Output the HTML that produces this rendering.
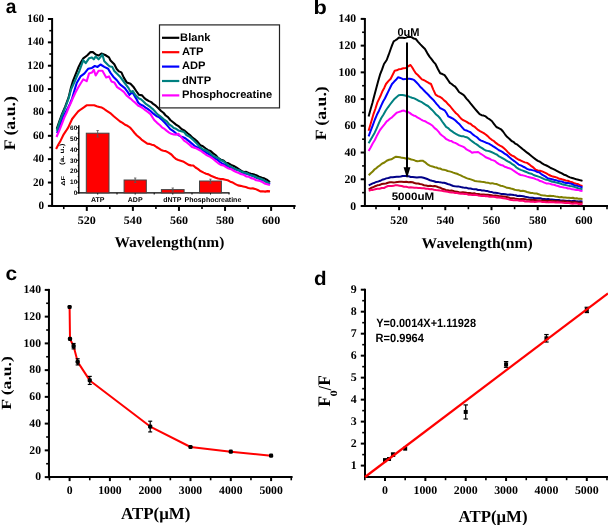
<!DOCTYPE html>
<html><head><meta charset="utf-8"><title>Figure</title>
<style>html,body{margin:0;padding:0;background:#fff;}svg{display:block;}</style>
</head><body>
<svg width="608" height="525" viewBox="0 0 608 525" text-rendering="geometricPrecision">
<rect width="608" height="525" fill="#fff"/>
<text transform="translate(5.78 13.35) scale(0.980 1)" font-family='"Liberation Sans", Arial, sans-serif' font-size="19.54" font-weight="bold" >a</text>
<line x1="52.1" y1="18" x2="52.1" y2="206.9" stroke="#000" stroke-width="2.0"/>
<line x1="47.9" y1="205.9" x2="52.1" y2="205.9" stroke="#000" stroke-width="2.0"/>
<line x1="47.9" y1="182.54" x2="52.1" y2="182.54" stroke="#000" stroke-width="2.0"/>
<line x1="47.9" y1="159.18" x2="52.1" y2="159.18" stroke="#000" stroke-width="2.0"/>
<line x1="47.9" y1="135.81" x2="52.1" y2="135.81" stroke="#000" stroke-width="2.0"/>
<line x1="47.9" y1="112.45" x2="52.1" y2="112.45" stroke="#000" stroke-width="2.0"/>
<line x1="47.9" y1="89.09" x2="52.1" y2="89.09" stroke="#000" stroke-width="2.0"/>
<line x1="47.9" y1="65.72" x2="52.1" y2="65.72" stroke="#000" stroke-width="2.0"/>
<line x1="47.9" y1="42.36" x2="52.1" y2="42.36" stroke="#000" stroke-width="2.0"/>
<line x1="47.9" y1="19" x2="52.1" y2="19" stroke="#000" stroke-width="2.0"/>
<line x1="49.3" y1="194.22" x2="52.1" y2="194.22" stroke="#000" stroke-width="1.6"/>
<line x1="49.3" y1="170.86" x2="52.1" y2="170.86" stroke="#000" stroke-width="1.6"/>
<line x1="49.3" y1="147.49" x2="52.1" y2="147.49" stroke="#000" stroke-width="1.6"/>
<line x1="49.3" y1="124.13" x2="52.1" y2="124.13" stroke="#000" stroke-width="1.6"/>
<line x1="49.3" y1="100.77" x2="52.1" y2="100.77" stroke="#000" stroke-width="1.6"/>
<line x1="49.3" y1="77.41" x2="52.1" y2="77.41" stroke="#000" stroke-width="1.6"/>
<line x1="49.3" y1="54.04" x2="52.1" y2="54.04" stroke="#000" stroke-width="1.6"/>
<line x1="49.3" y1="30.68" x2="52.1" y2="30.68" stroke="#000" stroke-width="1.6"/>
<text transform="translate(44.1 208.9) scale(0.98 1)" font-family='"Liberation Serif", "Times New Roman", serif' font-size="11.4" font-weight="bold" text-anchor="end" >0</text>
<text transform="translate(44.1 185.54) scale(0.98 1)" font-family='"Liberation Serif", "Times New Roman", serif' font-size="11.4" font-weight="bold" text-anchor="end" >20</text>
<text transform="translate(44.1 162.18) scale(0.98 1)" font-family='"Liberation Serif", "Times New Roman", serif' font-size="11.4" font-weight="bold" text-anchor="end" >40</text>
<text transform="translate(44.1 138.81) scale(0.98 1)" font-family='"Liberation Serif", "Times New Roman", serif' font-size="11.4" font-weight="bold" text-anchor="end" >60</text>
<text transform="translate(44.1 115.45) scale(0.98 1)" font-family='"Liberation Serif", "Times New Roman", serif' font-size="11.4" font-weight="bold" text-anchor="end" >80</text>
<text transform="translate(44.1 92.09) scale(0.98 1)" font-family='"Liberation Serif", "Times New Roman", serif' font-size="11.4" font-weight="bold" text-anchor="end" >100</text>
<text transform="translate(44.1 68.72) scale(0.98 1)" font-family='"Liberation Serif", "Times New Roman", serif' font-size="11.4" font-weight="bold" text-anchor="end" >120</text>
<text transform="translate(44.1 45.36) scale(0.98 1)" font-family='"Liberation Serif", "Times New Roman", serif' font-size="11.4" font-weight="bold" text-anchor="end" >140</text>
<text transform="translate(44.1 22) scale(0.98 1)" font-family='"Liberation Serif", "Times New Roman", serif' font-size="11.4" font-weight="bold" text-anchor="end" >160</text>
<line x1="51.1" y1="205.9" x2="295.6" y2="205.9" stroke="#000" stroke-width="2.0"/>
<line x1="86.8" y1="205.9" x2="86.8" y2="210.9" stroke="#000" stroke-width="2.0"/>
<line x1="132.88" y1="205.9" x2="132.88" y2="210.9" stroke="#000" stroke-width="2.0"/>
<line x1="178.96" y1="205.9" x2="178.96" y2="210.9" stroke="#000" stroke-width="2.0"/>
<line x1="225.04" y1="205.9" x2="225.04" y2="210.9" stroke="#000" stroke-width="2.0"/>
<line x1="271.12" y1="205.9" x2="271.12" y2="210.9" stroke="#000" stroke-width="2.0"/>
<line x1="63.76" y1="205.9" x2="63.76" y2="209.1" stroke="#000" stroke-width="1.6"/>
<line x1="109.84" y1="205.9" x2="109.84" y2="209.1" stroke="#000" stroke-width="1.6"/>
<line x1="155.92" y1="205.9" x2="155.92" y2="209.1" stroke="#000" stroke-width="1.6"/>
<line x1="202" y1="205.9" x2="202" y2="209.1" stroke="#000" stroke-width="1.6"/>
<line x1="248.08" y1="205.9" x2="248.08" y2="209.1" stroke="#000" stroke-width="1.6"/>
<line x1="294.16" y1="205.9" x2="294.16" y2="209.1" stroke="#000" stroke-width="1.6"/>
<text transform="translate(86.8 223.8) scale(1.06 1)" font-family='"Liberation Serif", "Times New Roman", serif' font-size="11.4" font-weight="bold" text-anchor="middle" >520</text>
<text transform="translate(132.88 223.8) scale(1.06 1)" font-family='"Liberation Serif", "Times New Roman", serif' font-size="11.4" font-weight="bold" text-anchor="middle" >540</text>
<text transform="translate(178.96 223.8) scale(1.06 1)" font-family='"Liberation Serif", "Times New Roman", serif' font-size="11.4" font-weight="bold" text-anchor="middle" >560</text>
<text transform="translate(225.04 223.8) scale(1.06 1)" font-family='"Liberation Serif", "Times New Roman", serif' font-size="11.4" font-weight="bold" text-anchor="middle" >580</text>
<text transform="translate(271.12 223.8) scale(1.06 1)" font-family='"Liberation Serif", "Times New Roman", serif' font-size="11.4" font-weight="bold" text-anchor="middle" >600</text>
<text transform="translate(114.42 247.13) scale(1.025 1)" font-family='"Liberation Serif", "Times New Roman", serif' font-size="15.08" font-weight="bold" >Wavelength(nm)</text>
<text transform="translate(14.63 150.26) rotate(-90) scale(1.108 1)" font-family='"Liberation Serif", "Times New Roman", serif' font-size="16.09" font-weight="bold" >F (a.u.)</text>
<line x1="78.8" y1="125.3" x2="78.8" y2="193.4" stroke="#000" stroke-width="1.4"/>
<line x1="78.1" y1="192.9" x2="229.6" y2="192.9" stroke="#000" stroke-width="1.4"/>
<line x1="76.8" y1="192.9" x2="78.8" y2="192.9" stroke="#000" stroke-width="1.0"/>
<text x="77.2" y="195.2" font-family='"Liberation Sans", Arial, sans-serif' font-size="6.4" font-weight="bold" text-anchor="end" >0</text>
<line x1="76.8" y1="182.03" x2="78.8" y2="182.03" stroke="#000" stroke-width="1.0"/>
<text x="77.2" y="184.33" font-family='"Liberation Sans", Arial, sans-serif' font-size="6.4" font-weight="bold" text-anchor="end" >10</text>
<line x1="76.8" y1="171.16" x2="78.8" y2="171.16" stroke="#000" stroke-width="1.0"/>
<text x="77.2" y="173.46" font-family='"Liberation Sans", Arial, sans-serif' font-size="6.4" font-weight="bold" text-anchor="end" >20</text>
<line x1="76.8" y1="160.29" x2="78.8" y2="160.29" stroke="#000" stroke-width="1.0"/>
<text x="77.2" y="162.59" font-family='"Liberation Sans", Arial, sans-serif' font-size="6.4" font-weight="bold" text-anchor="end" >30</text>
<line x1="76.8" y1="149.42" x2="78.8" y2="149.42" stroke="#000" stroke-width="1.0"/>
<text x="77.2" y="151.72" font-family='"Liberation Sans", Arial, sans-serif' font-size="6.4" font-weight="bold" text-anchor="end" >40</text>
<line x1="76.8" y1="138.55" x2="78.8" y2="138.55" stroke="#000" stroke-width="1.0"/>
<text x="77.2" y="140.85" font-family='"Liberation Sans", Arial, sans-serif' font-size="6.4" font-weight="bold" text-anchor="end" >50</text>
<line x1="76.8" y1="127.68" x2="78.8" y2="127.68" stroke="#000" stroke-width="1.0"/>
<text x="77.2" y="129.98" font-family='"Liberation Sans", Arial, sans-serif' font-size="6.4" font-weight="bold" text-anchor="end" >60</text>
<line x1="77.6" y1="187.47" x2="78.8" y2="187.47" stroke="#000" stroke-width="0.8"/>
<line x1="77.6" y1="176.59" x2="78.8" y2="176.59" stroke="#000" stroke-width="0.8"/>
<line x1="77.6" y1="165.72" x2="78.8" y2="165.72" stroke="#000" stroke-width="0.8"/>
<line x1="77.6" y1="154.86" x2="78.8" y2="154.86" stroke="#000" stroke-width="0.8"/>
<line x1="77.6" y1="143.99" x2="78.8" y2="143.99" stroke="#000" stroke-width="0.8"/>
<line x1="77.6" y1="133.12" x2="78.8" y2="133.12" stroke="#000" stroke-width="0.8"/>
<line x1="117" y1="192.9" x2="117" y2="194.5" stroke="#000" stroke-width="1.0"/>
<line x1="154.2" y1="192.9" x2="154.2" y2="194.5" stroke="#000" stroke-width="1.0"/>
<line x1="192" y1="192.9" x2="192" y2="194.5" stroke="#000" stroke-width="1.0"/>
<line x1="229" y1="192.9" x2="229" y2="194.5" stroke="#000" stroke-width="1.0"/>
<line x1="97.7" y1="192.9" x2="97.7" y2="194.5" stroke="#000" stroke-width="1.0"/>
<line x1="135.2" y1="192.9" x2="135.2" y2="194.5" stroke="#000" stroke-width="1.0"/>
<line x1="172.8" y1="192.9" x2="172.8" y2="194.5" stroke="#000" stroke-width="1.0"/>
<line x1="210.5" y1="192.9" x2="210.5" y2="194.5" stroke="#000" stroke-width="1.0"/>
<rect x="86.3" y="133.2" width="22.7" height="59.7" fill="#ff0000" stroke="#444" stroke-width="1"/>
<line x1="97.65" y1="130.5" x2="97.65" y2="137" stroke="#555" stroke-width="0.9"/>
<line x1="96.45" y1="130.5" x2="98.85" y2="130.5" stroke="#555" stroke-width="0.8"/>
<line x1="96.45" y1="137" x2="98.85" y2="137" stroke="#555" stroke-width="0.8"/>
<rect x="124.1" y="180" width="22.2" height="12.9" fill="#ff0000" stroke="#444" stroke-width="1"/>
<line x1="135.2" y1="178" x2="135.2" y2="182.5" stroke="#555" stroke-width="0.9"/>
<line x1="134" y1="178" x2="136.4" y2="178" stroke="#555" stroke-width="0.8"/>
<line x1="134" y1="182.5" x2="136.4" y2="182.5" stroke="#555" stroke-width="0.8"/>
<rect x="161.4" y="189.6" width="22.7" height="3.3" fill="#ff0000" stroke="#444" stroke-width="1"/>
<line x1="172.75" y1="188" x2="172.75" y2="191.2" stroke="#555" stroke-width="0.9"/>
<line x1="171.55" y1="188" x2="173.95" y2="188" stroke="#555" stroke-width="0.8"/>
<line x1="171.55" y1="191.2" x2="173.95" y2="191.2" stroke="#555" stroke-width="0.8"/>
<rect x="199.5" y="181" width="21.9" height="11.9" fill="#ff0000" stroke="#444" stroke-width="1"/>
<line x1="210.45" y1="179.2" x2="210.45" y2="183.2" stroke="#555" stroke-width="0.9"/>
<line x1="209.25" y1="179.2" x2="211.65" y2="179.2" stroke="#555" stroke-width="0.8"/>
<line x1="209.25" y1="183.2" x2="211.65" y2="183.2" stroke="#555" stroke-width="0.8"/>
<text x="97.7" y="202.2" font-family='"Liberation Sans", Arial, sans-serif' font-size="7.0" font-weight="bold" text-anchor="middle" >ATP</text>
<text x="135.2" y="202.2" font-family='"Liberation Sans", Arial, sans-serif' font-size="7.0" font-weight="bold" text-anchor="middle" >ADP</text>
<text x="172.4" y="202.2" font-family='"Liberation Sans", Arial, sans-serif' font-size="7.0" font-weight="bold" text-anchor="middle" >dNTP</text>
<text x="212.9" y="202.2" font-family='"Liberation Sans", Arial, sans-serif' font-size="7.0" font-weight="bold" text-anchor="middle" >Phosphocreatine</text>
<text transform="translate(64.85 185.75) rotate(-90) scale(1.341 1)" font-family='"Liberation Sans", Arial, sans-serif' font-size="5.53" font-weight="bold" >&#916;F</text>
<text transform="translate(64.06 165.05) rotate(-90) scale(1.297 1)" font-family='"Liberation Sans", Arial, sans-serif' font-size="6.22" font-weight="bold" >(a. u.)</text>
<path d="M56.8 128.8 L59.35 121.39 L61.9 114.4 L65.3 106.3 L68.7 97.2 L71 87.5 L72.8 81.5 L74.8 76.4 L78.6 66.9 L80.95 62.18 L83.3 58.3 L87.1 55.5 L90.5 52.1 L92.9 52.1 L95.7 54.5 L98.6 55.5 L101.4 53.6 L105.2 55 L109 57.4 L110.5 60.5 L114.3 64.3 L116.7 69 L119 71.4 L121.4 72.4 L123.8 77.6 L126.7 82.4 L130.5 83.8 L133.3 86.7 L136.2 91 L139 94.8 L142.1 95.4 L144.4 98.1 L146.7 99.78 L149 101.1 L151.27 102.12 L153.53 104.21 L155.8 105.7 L158.45 108.19 L161.1 111 L163.4 112.72 L165.7 115.51 L168 117.19 L170.3 120 L173.15 122.22 L176 124.6 L178.9 126.38 L181.8 129.2 L184.7 130.71 L187.6 133.2 L189.9 135.04 L192.2 137.46 L194.5 139 L197.4 141.6 L200.3 145.1 L202.88 146.27 L205.45 148.25 L208.03 150.14 L210.6 151.1 L213.18 153.34 L215.75 155.28 L218.32 158.12 L220.9 159.7 L223.45 160.46 L226 162.73 L228.55 163.35 L231.1 164.9 L233.68 165.97 L236.25 167.44 L238.82 169.17 L241.4 170.9 L243.8 171.96 L246.2 171.88 L248.6 173.04 L251 173.79 L253.4 174.3 L256.27 175.28 L259.13 176.62 L262 177.7 L264.67 178.61 L267.33 180.04 L270 182" fill="none" stroke="#000000" stroke-width="2.1" stroke-linejoin="round" stroke-linecap="butt" />
<path d="M56.1 149.1 L58.4 144.57 L60.7 140.4 L63.7 134.3 L66 130.96 L68.3 127.4 L72.1 119 L75.15 115.16 L78.2 111.4 L81 109.26 L83.8 107.38 L86.6 105.3 L89.13 105.27 L91.67 105.18 L94.2 105.3 L96.73 106.24 L99.27 106.95 L101.8 107.6 L104.1 108.97 L106.4 110.69 L108.7 112.19 L111 113.7 L114.03 116.53 L117.07 119.04 L120.1 121.5 L122.57 122.87 L125.05 124.79 L127.53 125.77 L130 127.5 L132.3 130.12 L134.6 132.99 L136.9 135.5 L139.2 137.34 L141.5 139.6 L144.4 141.59 L147.3 143.6 L149.6 143.89 L151.9 144.83 L154.2 145.3 L156.5 146.99 L158.8 148.41 L161.1 149.9 L163.4 150.73 L165.7 151.1 L168.55 152.69 L171.4 154.5 L173.7 156.92 L176 159.1 L178.33 159.92 L180.67 160.68 L183 161.4 L185.85 163.12 L188.7 164.9 L191 165.4 L193.3 165.5 L195.53 167.5 L197.77 168.95 L200 170.7 L203.7 172.6 L206.1 173.72 L208.5 174.38 L210.9 175.78 L213.3 176.77 L215.7 177.7 L218.1 178.52 L220.5 178.93 L222.9 179.13 L225.3 179.71 L227.7 180.3 L230.27 181.68 L232.85 182.56 L235.43 184.1 L238 185.4 L240.57 185.85 L243.15 186.47 L245.73 187.09 L248.3 188 L250.57 188.46 L252.83 188.38 L255.1 188.9 L257.7 190 L260.3 191.4 L262.73 191.33 L265.15 191.62 L267.57 191.15 L270 191.4" fill="none" stroke="#ff0000" stroke-width="2.1" stroke-linejoin="round" stroke-linecap="butt" />
<path d="M57 133 L60 124.79 L63 116.7 L65.3 112.7 L67.6 108.6 L69.9 103.87 L72.2 98.3 L75 88.5 L76.7 83.1 L80.5 76.4 L84.3 73.6 L88.1 68.8 L91.9 67.9 L94.8 66 L97.6 66.9 L100.5 64.5 L104.3 66.9 L108.1 68.8 L110.5 72.9 L113.3 76.7 L117.1 80.5 L119.05 83.2 L121 85.2 L124.8 88.1 L127.6 91.9 L129.5 94.8 L132.4 92.2 L136.2 98.6 L138.3 102.7 L140.74 104.76 L143.18 105.78 L145.62 107.59 L148.06 109.18 L150.5 111 L153.43 113.67 L156.35 116 L159.27 117.37 L162.2 120 L164.9 122.71 L167.6 125.84 L170.3 129.2 L173 130.84 L175.7 133.05 L178.4 135 L180.7 136.37 L183 137.29 L185.3 138.28 L187.6 140.1 L189.9 141.94 L192.2 143.82 L194.5 145.9 L197.25 147.12 L200 148.2 L202.5 150.4 L205 151.81 L207.5 153.32 L210 155 L212.5 156.88 L215 158.69 L217.5 159.76 L220 162 L222.4 163.64 L224.8 164.71 L227.2 166.01 L229.6 167.13 L232 168 L234.6 168.98 L237.2 170.09 L239.8 170.86 L242.4 172.55 L245 173.5 L247.4 173.92 L249.8 174.82 L252.2 175.88 L254.6 176.73 L257 178 L259.6 179.02 L262.2 179.91 L264.8 181.05 L267.4 182.42 L270 184" fill="none" stroke="#0000ff" stroke-width="2.1" stroke-linejoin="round" stroke-linecap="butt" />
<path d="M56.8 130.7 L59.35 122.62 L61.9 115.5 L65.3 107.3 L68.7 98.2 L71 89.5 L74.8 81.2 L77.15 75.79 L79.5 70.7 L83.3 60.2 L85.7 63.1 L89 58.3 L91.9 57.4 L93.8 59.3 L95.7 56.4 L98.6 59.3 L102.4 54.5 L104.3 61.2 L108.1 65 L109.5 66.2 L112.4 67.1 L114.3 71 L117.1 73.8 L120 76.7 L122.9 80.5 L125.7 84.3 L128.6 88.1 L130.5 91.9 L132.9 91 L135.2 94.8 L139 98.6 L140.95 99.28 L142.9 101.1 L145.43 103.58 L147.97 105.3 L150.5 107.2 L152.77 109.08 L155.03 111.5 L157.3 114.1 L159.7 115.88 L162.1 117.87 L164.5 120 L166.8 121.48 L169.1 124.29 L171.4 125.8 L173.73 127.93 L176.07 128.83 L178.4 130.4 L181.25 131.23 L184.1 132.1 L186.4 135 L188.7 136.2 L191 137.92 L193.3 140.1 L195.53 142.24 L197.77 144.48 L200 147.1 L202.65 149.14 L205.3 149.99 L207.95 151.48 L210.6 153.7 L213.16 155.85 L215.72 156.96 L218.29 158.11 L220.85 160.2 L223.41 161.19 L225.97 163.41 L228.54 165.56 L231.1 166.6 L233.68 168.31 L236.25 169.39 L238.82 170.14 L241.4 171.7 L244.12 172.5 L246.84 173.22 L249.56 174.91 L252.28 175.58 L255 176.5 L257.5 177.92 L260 178.46 L262.5 179.42 L265 181.21 L267.5 182.5 L270 183" fill="none" stroke="#008080" stroke-width="2.1" stroke-linejoin="round" stroke-linecap="butt" />
<path d="M56.5 137 L59.07 131.02 L61.63 124.57 L64.2 117.8 L66.45 113.03 L68.7 107.5 L71 102.64 L73.3 97.2 L75.6 92.27 L77.9 88 L80 84.5 L83.3 79.3 L86.7 81.2 L89 73.6 L91.9 72.6 L93.8 69.8 L95.7 75.5 L98.6 70.7 L102.4 70.7 L106.2 77.4 L109 76.4 L111.4 81.4 L114.3 82.4 L117.1 87.1 L120 89 L123.8 91.9 L126.7 95.7 L130.5 98.6 L133.1 100.99 L135.7 103.16 L138.3 105.7 L140.74 106.81 L143.18 108.49 L145.62 110.48 L148.06 112.13 L150.5 114.1 L154.2 120 L157.1 122.83 L160 125.2 L162.27 127.65 L164.53 128.94 L166.8 130.9 L169.1 132.59 L171.4 133.82 L173.7 134.4 L176.05 134.65 L178.4 133.8 L181.25 137.09 L184.1 140.7 L186.8 142.5 L189.5 144.64 L192.2 147.1 L194.9 147.87 L197.6 149.01 L200.3 150.5 L202.88 152.3 L205.45 154.28 L208.03 155.86 L210.6 157.1 L213.18 159.03 L215.75 161.18 L218.32 163.31 L220.9 164.9 L223.45 165.45 L226 167.19 L228.55 168.54 L231.1 169.1 L233.68 170.74 L236.25 172 L238.82 172.97 L241.4 174.3 L243.8 174.77 L246.2 176.37 L248.6 176.68 L251 178.1 L253.4 178.6 L256.17 180.23 L258.93 180.61 L261.7 181.68 L264.47 183.4 L267.23 184.2 L270 185" fill="none" stroke="#ff00ff" stroke-width="2.1" stroke-linejoin="round" stroke-linecap="butt" />
<rect x="159.5" y="24.9" width="120" height="83.0" fill="#fff" stroke="#222" stroke-width="1.2"/>
<line x1="162" y1="37.8" x2="179.3" y2="37.8" stroke="#000" stroke-width="2.2"/>
<text transform="translate(180.1 40.55) scale(1.012 1)" font-family='"Liberation Sans", Arial, sans-serif' font-size="11.0" font-weight="bold" text-anchor="start" >Blank</text>
<line x1="162" y1="52.2" x2="179.3" y2="52.2" stroke="#ff0000" stroke-width="2.2"/>
<text transform="translate(182 54.95) scale(1.012 1)" font-family='"Liberation Sans", Arial, sans-serif' font-size="11.0" font-weight="bold" text-anchor="start" >ATP</text>
<line x1="162" y1="66.6" x2="179.3" y2="66.6" stroke="#0000ff" stroke-width="2.2"/>
<text transform="translate(182 69.35) scale(1.012 1)" font-family='"Liberation Sans", Arial, sans-serif' font-size="11.0" font-weight="bold" text-anchor="start" >ADP</text>
<line x1="162" y1="81" x2="179.3" y2="81" stroke="#008080" stroke-width="2.2"/>
<text transform="translate(182 83.75) scale(1.012 1)" font-family='"Liberation Sans", Arial, sans-serif' font-size="11.0" font-weight="bold" text-anchor="start" >dNTP</text>
<line x1="162" y1="95.4" x2="179.3" y2="95.4" stroke="#ff00ff" stroke-width="2.2"/>
<text transform="translate(182 98.15) scale(1.012 1)" font-family='"Liberation Sans", Arial, sans-serif' font-size="11.0" font-weight="bold" text-anchor="start" >Phosphocreatine</text>
<text transform="translate(313.53 14.35) scale(1.104 1)" font-family='"Liberation Sans", Arial, sans-serif' font-size="19.73" font-weight="bold" >b</text>
<line x1="364.9" y1="18" x2="364.9" y2="207" stroke="#000" stroke-width="2.0"/>
<line x1="360.7" y1="206" x2="364.9" y2="206" stroke="#000" stroke-width="2.0"/>
<line x1="360.7" y1="179.27" x2="364.9" y2="179.27" stroke="#000" stroke-width="2.0"/>
<line x1="360.7" y1="152.54" x2="364.9" y2="152.54" stroke="#000" stroke-width="2.0"/>
<line x1="360.7" y1="125.81" x2="364.9" y2="125.81" stroke="#000" stroke-width="2.0"/>
<line x1="360.7" y1="99.09" x2="364.9" y2="99.09" stroke="#000" stroke-width="2.0"/>
<line x1="360.7" y1="72.36" x2="364.9" y2="72.36" stroke="#000" stroke-width="2.0"/>
<line x1="360.7" y1="45.63" x2="364.9" y2="45.63" stroke="#000" stroke-width="2.0"/>
<line x1="360.7" y1="18.9" x2="364.9" y2="18.9" stroke="#000" stroke-width="2.0"/>
<line x1="362.1" y1="192.64" x2="364.9" y2="192.64" stroke="#000" stroke-width="1.6"/>
<line x1="362.1" y1="165.91" x2="364.9" y2="165.91" stroke="#000" stroke-width="1.6"/>
<line x1="362.1" y1="139.18" x2="364.9" y2="139.18" stroke="#000" stroke-width="1.6"/>
<line x1="362.1" y1="112.45" x2="364.9" y2="112.45" stroke="#000" stroke-width="1.6"/>
<line x1="362.1" y1="85.72" x2="364.9" y2="85.72" stroke="#000" stroke-width="1.6"/>
<line x1="362.1" y1="58.99" x2="364.9" y2="58.99" stroke="#000" stroke-width="1.6"/>
<line x1="362.1" y1="32.26" x2="364.9" y2="32.26" stroke="#000" stroke-width="1.6"/>
<text transform="translate(356.1 209.5) scale(1.01 1)" font-family='"Liberation Serif", "Times New Roman", serif' font-size="11.6" font-weight="bold" text-anchor="end" >0</text>
<text transform="translate(356.1 182.77) scale(1.01 1)" font-family='"Liberation Serif", "Times New Roman", serif' font-size="11.6" font-weight="bold" text-anchor="end" >20</text>
<text transform="translate(356.1 156.04) scale(1.01 1)" font-family='"Liberation Serif", "Times New Roman", serif' font-size="11.6" font-weight="bold" text-anchor="end" >40</text>
<text transform="translate(356.1 129.31) scale(1.01 1)" font-family='"Liberation Serif", "Times New Roman", serif' font-size="11.6" font-weight="bold" text-anchor="end" >60</text>
<text transform="translate(356.1 102.59) scale(1.01 1)" font-family='"Liberation Serif", "Times New Roman", serif' font-size="11.6" font-weight="bold" text-anchor="end" >80</text>
<text transform="translate(356.1 75.86) scale(1.01 1)" font-family='"Liberation Serif", "Times New Roman", serif' font-size="11.6" font-weight="bold" text-anchor="end" >100</text>
<text transform="translate(356.1 49.13) scale(1.01 1)" font-family='"Liberation Serif", "Times New Roman", serif' font-size="11.6" font-weight="bold" text-anchor="end" >120</text>
<text transform="translate(356.1 22.4) scale(1.01 1)" font-family='"Liberation Serif", "Times New Roman", serif' font-size="11.6" font-weight="bold" text-anchor="end" >140</text>
<line x1="363.9" y1="206" x2="608" y2="206" stroke="#000" stroke-width="2.0"/>
<line x1="399.1" y1="206" x2="399.1" y2="210.2" stroke="#000" stroke-width="2.0"/>
<line x1="445.3" y1="206" x2="445.3" y2="210.2" stroke="#000" stroke-width="2.0"/>
<line x1="491.5" y1="206" x2="491.5" y2="210.2" stroke="#000" stroke-width="2.0"/>
<line x1="537.7" y1="206" x2="537.7" y2="210.2" stroke="#000" stroke-width="2.0"/>
<line x1="583.9" y1="206" x2="583.9" y2="210.2" stroke="#000" stroke-width="2.0"/>
<line x1="376" y1="206" x2="376" y2="209.2" stroke="#000" stroke-width="1.6"/>
<line x1="422.2" y1="206" x2="422.2" y2="209.2" stroke="#000" stroke-width="1.6"/>
<line x1="468.4" y1="206" x2="468.4" y2="209.2" stroke="#000" stroke-width="1.6"/>
<line x1="514.6" y1="206" x2="514.6" y2="209.2" stroke="#000" stroke-width="1.6"/>
<line x1="560.8" y1="206" x2="560.8" y2="209.2" stroke="#000" stroke-width="1.6"/>
<line x1="607" y1="206" x2="607" y2="209.2" stroke="#000" stroke-width="1.6"/>
<text transform="translate(399.1 224.2) scale(1.01 1)" font-family='"Liberation Serif", "Times New Roman", serif' font-size="11.6" font-weight="bold" text-anchor="middle" >520</text>
<text transform="translate(445.3 224.2) scale(1.01 1)" font-family='"Liberation Serif", "Times New Roman", serif' font-size="11.6" font-weight="bold" text-anchor="middle" >540</text>
<text transform="translate(491.5 224.2) scale(1.01 1)" font-family='"Liberation Serif", "Times New Roman", serif' font-size="11.6" font-weight="bold" text-anchor="middle" >560</text>
<text transform="translate(537.7 224.2) scale(1.01 1)" font-family='"Liberation Serif", "Times New Roman", serif' font-size="11.6" font-weight="bold" text-anchor="middle" >580</text>
<text transform="translate(583.9 224.2) scale(1.01 1)" font-family='"Liberation Serif", "Times New Roman", serif' font-size="11.6" font-weight="bold" text-anchor="middle" >600</text>
<text transform="translate(421.62 247.93) scale(1.036 1)" font-family='"Liberation Serif", "Times New Roman", serif' font-size="15.08" font-weight="bold" >Wavelength(nm)</text>
<text transform="translate(326.32 140.26) rotate(-90) scale(1.133 1)" font-family='"Liberation Serif", "Times New Roman", serif' font-size="15.65" font-weight="bold" >F (a.u.)</text>
<path d="M368.6 116.5 L370.5 109.52 L372.4 103 L374.2 95.89 L376 89.3 L378 81.76 L380 74.7 L382 69.63 L384 64 L386.7 60 L388.7 54.71 L390.7 49 L392.2 44.9 L393.7 41.3 L395.47 40.26 L397.23 39.1 L399 37.5 L400.8 37.78 L402.6 37.73 L404.4 38 L406.17 37.63 L407.93 36.94 L409.7 36.8 L411.73 37.19 L413.77 38.6 L415.8 39 L418.1 41.8 L420.4 44.4 L422.7 46.72 L425 49 L427.25 53.1 L429.5 56.6 L431.53 59.09 L433.57 61.93 L435.6 64.2 L437.9 68.98 L440.2 73.3 L442.4 74.05 L444.6 75.2 L446.37 77.59 L448.13 80.19 L449.9 82.9 L451.67 83.99 L453.43 85.49 L455.2 86.7 L457.1 89.18 L459 92 L460.8 93.21 L462.6 94.28 L464.4 95.8 L466.43 98.62 L468.47 100.76 L470.5 103.4 L472.75 106.07 L475 108.8 L477.3 111.51 L479.6 114.1 L481.63 115.15 L483.67 115.58 L485.7 116.4 L487.73 118.23 L489.77 119.47 L491.8 121 L494.1 124.02 L496.4 127 L498.7 128.17 L501 129.3 L503 131.46 L505 134.26 L507 136.8 L509.3 138.68 L511.6 141 L513.35 141.83 L515.1 143.56 L516.85 144.3 L518.6 145.7 L520.73 147.41 L522.85 149.31 L524.98 150.91 L527.1 152.6 L529.25 154.18 L531.4 156.01 L533.55 157.74 L535.7 159.4 L537.85 160.9 L540 161.72 L542.15 163.34 L544.3 164.6 L546.45 165.5 L548.6 166.59 L550.75 168.02 L552.9 168.9 L555.02 169.96 L557.15 171.04 L559.27 172.23 L561.4 173.1 L563.55 174.46 L565.7 175.21 L567.85 176.4 L570 177.4 L572.08 177.99 L574.17 178.58 L576.25 179.28 L578.33 179.7 L580.42 180.34 L582.5 180.9" fill="none" stroke="#000000" stroke-width="2.0" stroke-linejoin="round" stroke-linecap="butt" />
<path d="M368.6 130.8 L370.95 122.73 L373.3 114.7 L375.3 109.01 L377.3 102.7 L379.1 98.84 L380.9 94.96 L382.7 90.7 L384.35 87.66 L386 84 L388.35 81.18 L390.7 78.7 L392.7 74.74 L394.7 70.7 L396.7 70.31 L398.7 69.3 L401 69.04 L403.3 68.3 L405.9 68 L408.2 66.25 L410.5 65 L412.27 67.5 L414.03 70.49 L415.8 73.3 L417.83 75.03 L419.87 77.19 L421.9 79.4 L424.2 80.25 L426.5 81.7 L428.75 82.97 L431 84 L433.3 89.55 L435.6 94.7 L437.9 96.13 L440.2 97 L442.17 98.39 L444.13 100.42 L446.1 101.9 L448.13 104.31 L450.17 106.25 L452.2 108.8 L454.1 111.14 L456 113.28 L457.9 114.83 L459.8 117.1 L461.35 118.87 L462.9 120 L464.8 120.88 L466.7 121.89 L468.6 123.19 L470.5 123.8 L472.4 125.56 L474.3 126.61 L476.2 128.33 L478.1 129.9 L480 131.06 L481.9 132.09 L483.8 133.14 L485.7 134.5 L487.73 136.14 L489.77 138.19 L491.8 139.8 L493.83 141 L495.87 142.9 L497.9 144.4 L499.93 145.62 L501.97 146.6 L504 148.2 L506.03 150.12 L508.07 152.35 L510.1 154.3 L512.13 155.58 L514.17 156.53 L516.2 158.1 L518.25 159.54 L520.3 160.3 L522.57 161.37 L524.83 162.36 L527.1 162.9 L529.25 164.32 L531.4 166.14 L533.55 167.68 L535.7 169.7 L537.85 170.55 L540 170.84 L542.15 171.39 L544.3 172.3 L546.45 173.32 L548.6 174.74 L550.75 175.75 L552.9 176.6 L555.02 177.06 L557.15 177.6 L559.27 178.77 L561.4 179.1 L563.55 179.8 L565.7 180.54 L567.85 180.76 L570 181.7 L572.08 182.11 L574.17 183.27 L576.25 183.8 L578.33 184.27 L580.42 185.59 L582.5 186" fill="none" stroke="#ff0000" stroke-width="2.0" stroke-linejoin="round" stroke-linecap="butt" />
<path d="M368.6 136.3 L370.63 130.96 L372.67 125.64 L374.7 120 L376.9 114.81 L379.1 110.45 L381.3 105.3 L383.1 101.46 L384.9 98.49 L386.7 94.7 L388.47 91.1 L390.23 87.45 L392 84 L394 81.8 L396 79.83 L398 77.3 L399.77 77.8 L401.53 78.37 L403.3 79.3 L405.43 79.12 L407.57 78.72 L409.7 78.7 L412 79.18 L414.3 80.2 L416.33 82.23 L418.37 84.42 L420.4 87 L422.43 88.82 L424.47 90.94 L426.5 93.1 L428.53 95 L430.57 97.35 L432.6 99.2 L434.45 101.25 L436.3 103.6 L438.15 105.57 L440 108 L442.3 109.04 L444.6 110.3 L446.5 113.01 L448.4 116.4 L450.67 117.49 L452.93 118.59 L455.2 120.2 L457.5 122.56 L459.8 124.6 L462.1 127.29 L464.4 129.9 L466.43 130.45 L468.47 131.42 L470.5 132.2 L472.75 134.4 L475 136 L477.03 137.26 L479.07 139.29 L481.1 140.6 L483.03 141.3 L484.95 142.1 L486.88 143.08 L488.8 143.6 L490.83 144.79 L492.87 146.14 L494.9 147.4 L496.93 148.8 L498.97 150.27 L501 151.2 L503 152.36 L505 153.97 L507 155 L508.5 156.49 L510 157.7 L512.15 159.52 L514.3 161.08 L516.45 162.77 L518.6 164.6 L520.73 165.36 L522.85 166.49 L524.98 167.52 L527.1 168.9 L529.1 169.64 L531.1 169.86 L533.1 170.36 L535.1 170.88 L537.1 171.97 L539.1 172.3 L541.25 174.06 L543.4 175.42 L545.55 176.65 L547.7 178.3 L549.76 178.64 L551.82 179.2 L553.88 179.83 L555.94 180.14 L558 180.9 L560 181.28 L562 181.57 L564 182.47 L566 182.9 L568 183.02 L570 183.4 L572.08 183.94 L574.17 185.16 L576.25 185.42 L578.33 186.17 L580.42 186.63 L582.5 187.7" fill="none" stroke="#0000ff" stroke-width="2.0" stroke-linejoin="round" stroke-linecap="butt" />
<path d="M368.6 143.3 L370.63 139.68 L372.67 136.22 L374.7 132.7 L376.9 127.8 L379.1 122.69 L381.3 118 L383.53 114.44 L385.77 110.52 L388 107.3 L390.23 104.27 L392.47 101.28 L394.7 98.7 L396.7 96.93 L398.7 95.3 L400.47 94.98 L402.23 94.97 L404 95.3 L405.9 95.7 L407.8 96.18 L409.7 96.9 L412 97.71 L414.3 98.4 L416.2 99.37 L418.1 100.48 L420 101.36 L421.9 102.2 L423.93 103.62 L425.97 105 L428 106 L430.03 107.96 L432.07 109.94 L434.1 112.1 L436.13 114.57 L438.17 116.12 L440.2 118.5 L442.17 121.46 L444.13 124.2 L446.1 126.9 L448.13 128.08 L450.17 130.13 L452.2 131.4 L454.23 132.94 L456.27 134.02 L458.3 135.2 L460.12 135.82 L461.94 136.34 L463.76 136.33 L465.58 137.06 L467.4 137.5 L469.24 138.88 L471.08 140.49 L472.92 141.85 L474.76 143.25 L476.6 144.4 L478.42 145.68 L480.24 147.11 L482.06 148.19 L483.88 149.42 L485.7 150.5 L487.6 150.89 L489.5 151.32 L491.4 151.97 L493.3 152.8 L495.23 153.83 L497.15 154.77 L499.07 156.41 L501 157.3 L502.82 158.38 L504.64 159.47 L506.46 160.51 L508.28 161.59 L510.1 162.5 L512.23 164.09 L514.35 165.35 L516.48 167.51 L518.6 168.9 L520.73 169.92 L522.85 170.6 L524.98 171.47 L527.1 172.3 L529.25 173.26 L531.4 173.7 L533.55 175.02 L535.7 175.7 L537.85 176.38 L540 177.1 L542.15 178.09 L544.3 179.1 L546.3 179.84 L548.3 180.06 L550.3 181.02 L552.3 181.77 L554.3 182.01 L556.3 182.6 L558.26 183 L560.21 183.56 L562.17 184.19 L564.13 184.73 L566.09 185.11 L568.04 185.61 L570 186 L572.08 186.27 L574.17 186.89 L576.25 187.53 L578.33 188.44 L580.42 188.7 L582.5 189.4" fill="none" stroke="#008080" stroke-width="2.0" stroke-linejoin="round" stroke-linecap="butt" />
<path d="M368.6 151 L370.63 147.48 L372.67 143.53 L374.7 140.3 L376.47 136.56 L378.23 133.27 L380 130 L382.23 127.22 L384.47 124.33 L386.7 121.3 L388.47 120.09 L390.23 118.49 L392 117.3 L394.35 115.01 L396.7 112.7 L398.52 112.13 L400.35 111.58 L402.18 110.78 L404 110.5 L405.9 111.58 L407.8 111.89 L409.7 112.9 L411.6 114.36 L413.5 115.46 L415.4 115.94 L417.3 117.4 L419.23 118.32 L421.15 119.52 L423.07 120.58 L425 121.2 L426.9 122.31 L428.8 123.34 L430.7 124.45 L432.6 125.8 L434.63 128.15 L436.67 129.66 L438.7 131.9 L440 133.7 L442.03 135.52 L444.07 136.98 L446.1 139 L447.92 139.8 L449.74 140.88 L451.56 141.08 L453.38 142.34 L455.2 142.9 L457.12 143.86 L459.05 145.07 L460.97 145.89 L462.9 146.7 L464.72 147.73 L466.54 149.42 L468.36 150.35 L470.18 151.25 L472 152.8 L474.03 152.19 L476.07 152.26 L478.1 152 L480 153.29 L481.9 154.51 L483.8 155.72 L485.7 157.3 L487.6 157.97 L489.5 158.72 L491.4 159.86 L493.3 160.4 L495.23 161.2 L497.15 162.88 L499.07 164.09 L501 165 L502.82 165.43 L504.64 166.7 L506.46 167.25 L508.28 168.08 L510.1 168.5 L512.23 169.73 L514.35 171.16 L516.48 172.55 L518.6 174 L520.73 175 L522.85 175.36 L524.98 175.85 L527.1 176.6 L529.25 177.17 L531.4 177.69 L533.55 178.16 L535.7 179.1 L537.85 179.7 L540 181.08 L542.15 181.57 L544.3 182.6 L546.26 183.39 L548.21 183.4 L550.17 183.89 L552.13 184.55 L554.09 184.81 L556.04 185.43 L558 186 L560 186.75 L562 187.14 L564 187.52 L566 187.82 L568 188.46 L570 188.6 L572.08 189.33 L574.17 189.47 L576.25 190 L578.33 189.95 L580.42 190.85 L582.5 191.1" fill="none" stroke="#ff00ff" stroke-width="2.0" stroke-linejoin="round" stroke-linecap="butt" />
<path d="M368.7 175.3 L370.7 173.27 L372.7 171.48 L374.7 169.3 L376.47 168.07 L378.23 166.48 L380 165.3 L382.23 163.45 L384.47 162.53 L386.7 160.7 L389.05 159.74 L391.4 159.3 L393.7 157.98 L396 156.7 L398 156.92 L400 157.21 L402 157.84 L404 158 L405.77 158.57 L407.53 158.3 L409.3 158.7 L411.3 159.46 L413.3 159.86 L415.3 160.69 L417.3 161.3 L419.1 161.03 L420.9 160.67 L422.7 160.7 L424.47 161.8 L426.23 163.16 L428 164.7 L430.23 165.85 L432.47 166.43 L434.7 167.3 L436.47 167.5 L438.23 168.38 L440 168.5 L441.9 169.47 L443.8 169.71 L445.7 170.12 L447.6 171 L449.5 171.36 L451.4 171.86 L453.3 172.61 L455.2 173.3 L457.04 173.77 L458.88 174.64 L460.72 175.41 L462.56 176.39 L464.4 177.1 L466.52 178.15 L468.64 178.83 L470.76 179.38 L472.88 180.16 L475 181 L477.14 181.32 L479.28 181.51 L481.42 181.79 L483.56 181.89 L485.7 182.5 L487.84 182.64 L489.98 183.43 L492.12 183.14 L494.26 183.7 L496.4 184 L498.52 184.85 L500.64 185.77 L502.76 186.08 L504.88 186.88 L507 187.8 L508.93 188.04 L510.87 188.56 L512.8 189.01 L514.73 189.78 L516.67 190.13 L518.6 190.3 L520.73 190.99 L522.85 190.82 L524.98 191.25 L527.1 192 L529.01 192.52 L530.92 193.03 L532.83 193.11 L534.74 193.57 L536.66 193.54 L538.57 194.19 L540.48 194.94 L542.39 195.25 L544.3 195.4 L546.2 195.84 L548.1 196.11 L550 195.79 L551.9 195.88 L553.8 196.1 L555.7 196.55 L557.6 196.85 L559.5 197.22 L561.4 197.1 L563.32 197.42 L565.24 197.53 L567.15 197.78 L569.07 197.72 L570.99 197.95 L572.91 197.76 L574.83 198.44 L576.75 198.22 L578.66 198.87 L580.58 198.84 L582.5 198.9" fill="none" stroke="#808000" stroke-width="2.0" stroke-linejoin="round" stroke-linecap="butt" />
<path d="M368.7 185.3 L370.7 184.32 L372.7 183.34 L374.7 182.7 L376.56 181.87 L378.42 181.42 L380.28 180.78 L382.14 179.75 L384 179.3 L386.23 178.38 L388.47 177.98 L390.7 177.3 L392.7 177.2 L394.7 176.93 L396.7 176.68 L398.7 176.7 L400.7 176.59 L402.7 176.06 L404.7 176.06 L406.7 176 L408.7 176.3 L410.7 176.93 L412.7 177.06 L414.7 177.3 L416.9 177.53 L419.1 177.29 L421.3 177.3 L423.53 177.81 L425.77 178.48 L428 179.3 L430 180.25 L432 180.77 L434 181.21 L436 182 L438 181.89 L440 182.35 L442 182.63 L444 182.7 L445.8 183.3 L447.6 184 L449.5 184.43 L451.4 185.25 L453.3 185.98 L455.2 186.3 L457.11 186.42 L459.02 186.6 L460.94 187.07 L462.85 187.4 L464.76 187.85 L466.68 187.84 L468.59 188.49 L470.5 188.6 L472.4 189.03 L474.3 189.18 L476.2 189.29 L478.1 190.03 L480 189.92 L481.9 190.52 L483.8 190.45 L485.7 190.9 L487.61 191.11 L489.52 191.81 L491.44 191.9 L493.35 192.67 L495.26 192.77 L497.18 192.96 L499.09 193.36 L501 193.9 L503.25 194.03 L505.5 194.35 L507.75 194.69 L510 194.6 L511.9 194.67 L513.8 195.09 L515.7 195.26 L517.6 196 L519.5 195.77 L521.4 196 L523.3 196.28 L525.2 196.76 L527.1 197.1 L529.01 197.54 L530.92 197.73 L532.83 197.84 L534.74 198.2 L536.66 198.36 L538.57 198.2 L540.48 198.31 L542.39 198.96 L544.3 198.9 L546.2 199.24 L548.1 199 L550 199.57 L551.9 199.58 L553.8 199.77 L555.7 199.93 L557.6 200.02 L559.5 200.11 L561.4 200.6 L563.32 200.54 L565.24 200.66 L567.15 201.09 L569.07 200.67 L570.99 201.24 L572.91 200.86 L574.83 201.02 L576.75 201.37 L578.66 201.45 L580.58 201.29 L582.5 201.4" fill="none" stroke="#000088" stroke-width="2.0" stroke-linejoin="round" stroke-linecap="butt" />
<path d="M368.7 189.3 L370.85 188.03 L373 187.28 L375.15 186.22 L377.3 185.3 L379.44 185.03 L381.58 184.08 L383.72 183.66 L385.86 183.46 L388 182.7 L389.86 182.28 L391.72 182.37 L393.58 182.47 L395.44 182.3 L397.3 182 L399.53 181.72 L401.77 181.72 L404 182 L406.23 181.74 L408.47 182.25 L410.7 182 L412.56 182.25 L414.42 182.95 L416.28 183.44 L418.14 183.5 L420 184 L422 184.36 L424 185.27 L426 185.57 L428 186 L430.23 185.86 L432.47 186.13 L434.7 186 L436.56 186.55 L438.42 187.19 L440.28 187.68 L442.14 188.79 L444 189.3 L445.87 189.93 L447.73 190.15 L449.6 190.72 L451.47 190.55 L453.33 191.06 L455.2 191.6 L457.11 191.77 L459.02 192.25 L460.94 192.43 L462.85 192.28 L464.76 192.39 L466.68 192.68 L468.59 192.91 L470.5 193.1 L472.4 193.56 L474.3 193.31 L476.2 193.88 L478.1 194.04 L480 194.29 L481.9 194.46 L483.8 194.56 L485.7 194.7 L487.61 194.78 L489.52 194.97 L491.44 195.18 L493.35 195.62 L495.26 195.38 L497.18 195.64 L499.09 196.16 L501 196.2 L503.25 196.5 L505.5 196.84 L507.75 197.27 L510 198 L511.9 198.22 L513.8 198.27 L515.7 198.85 L517.6 198.99 L519.5 199.24 L521.4 198.99 L523.3 199.07 L525.2 199.27 L527.1 199.7 L529.01 199.8 L530.92 200.03 L532.83 199.97 L534.74 199.94 L536.66 200.15 L538.57 200.37 L540.48 200.5 L542.39 200.65 L544.3 200.6 L546.2 200.9 L548.1 200.88 L550 200.64 L551.9 201.16 L553.8 200.92 L555.7 201.17 L557.6 201.15 L559.5 201.45 L561.4 201.4 L563.32 201.35 L565.24 201.5 L567.15 201.63 L569.07 201.7 L570.99 202.27 L572.91 202.21 L574.83 202.19 L576.75 202.36 L578.66 202.84 L580.58 202.68 L582.5 202.8" fill="none" stroke="#8b0000" stroke-width="2.0" stroke-linejoin="round" stroke-linecap="butt" />
<path d="M368.7 190.7 L370.85 190.04 L373 189.89 L375.15 189.29 L377.3 188.7 L379.53 188.76 L381.77 187.99 L384 188 L386 186.98 L388 186 L389.86 186.05 L391.72 185.92 L393.58 185.83 L395.44 185.16 L397.3 185.3 L399.53 185.64 L401.77 186 L404 186.7 L406.23 186.71 L408.47 187.38 L410.7 187.3 L412.56 187.49 L414.42 187.84 L416.28 187.64 L418.14 188.08 L420 188 L422 188.14 L424 188.21 L426 188.69 L428 188.7 L430 189.29 L432 189.11 L434 189.73 L436 190.07 L438 190.16 L440 190.57 L442 190.76 L444 191.3 L445.87 191.42 L447.73 191.75 L449.6 192.26 L451.47 192.59 L453.33 192.62 L455.2 193.1 L457.11 193.01 L459.02 193.4 L460.94 193.81 L462.85 193.71 L464.76 193.99 L466.68 194.12 L468.59 194.68 L470.5 194.7 L472.4 194.92 L474.3 194.81 L476.2 195.02 L478.1 195.39 L480 195.67 L481.9 195.91 L483.8 195.77 L485.7 196.2 L487.61 196.19 L489.52 196.69 L491.44 196.71 L493.35 196.82 L495.26 197.02 L497.18 197.6 L499.09 197.4 L501 197.7 L503.25 198.24 L505.5 198.61 L507.75 199.15 L510 199.7 L511.9 200.11 L513.8 200.38 L515.7 200.18 L517.6 200.27 L519.5 200.78 L521.4 200.66 L523.3 200.73 L525.2 201.45 L527.1 201.4 L529.01 201.42 L530.92 201.73 L532.83 201.54 L534.74 201.9 L536.66 201.71 L538.57 201.6 L540.48 201.58 L542.39 201.96 L544.3 202 L546.2 202.15 L548.1 202.38 L550 201.95 L551.9 202.34 L553.8 202.26 L555.7 202.4 L557.6 202.25 L559.5 202.4 L561.4 202.6 L563.32 202.74 L565.24 203.11 L567.15 202.75 L569.07 203.1 L570.99 203.42 L572.91 203.64 L574.83 203.31 L576.75 203.39 L578.66 204.01 L580.58 204.16 L582.5 204" fill="none" stroke="#ff0070" stroke-width="2.0" stroke-linejoin="round" stroke-linecap="butt" />
<line x1="407" y1="42.6" x2="407" y2="170" stroke="#000" stroke-width="2.0"/>
<polygon points="403.6,167.3 410.4,167.3 407,178.2" fill="#000"/>
<text transform="translate(397.46 36.39) scale(0.965 1)" font-family='"Liberation Sans", Arial, sans-serif' font-size="11.45" font-weight="bold" >0uM</text>
<text transform="translate(391.65 200.19) scale(1.082 1)" font-family='"Liberation Sans", Arial, sans-serif' font-size="10.74" font-weight="bold" >5000uM</text>
<text transform="translate(5.51 280.35) scale(1.066 1)" font-family='"Liberation Sans", Arial, sans-serif' font-size="19.63" font-weight="bold" >c</text>
<line x1="48.95" y1="288.9" x2="48.95" y2="478.1" stroke="#000" stroke-width="2.0"/>
<line x1="44.75" y1="477.1" x2="48.95" y2="477.1" stroke="#000" stroke-width="2.0"/>
<line x1="44.75" y1="450.36" x2="48.95" y2="450.36" stroke="#000" stroke-width="2.0"/>
<line x1="44.75" y1="423.61" x2="48.95" y2="423.61" stroke="#000" stroke-width="2.0"/>
<line x1="44.75" y1="396.87" x2="48.95" y2="396.87" stroke="#000" stroke-width="2.0"/>
<line x1="44.75" y1="370.13" x2="48.95" y2="370.13" stroke="#000" stroke-width="2.0"/>
<line x1="44.75" y1="343.39" x2="48.95" y2="343.39" stroke="#000" stroke-width="2.0"/>
<line x1="44.75" y1="316.64" x2="48.95" y2="316.64" stroke="#000" stroke-width="2.0"/>
<line x1="44.75" y1="289.9" x2="48.95" y2="289.9" stroke="#000" stroke-width="2.0"/>
<line x1="46.15" y1="463.73" x2="48.95" y2="463.73" stroke="#000" stroke-width="1.6"/>
<line x1="46.15" y1="436.99" x2="48.95" y2="436.99" stroke="#000" stroke-width="1.6"/>
<line x1="46.15" y1="410.24" x2="48.95" y2="410.24" stroke="#000" stroke-width="1.6"/>
<line x1="46.15" y1="383.5" x2="48.95" y2="383.5" stroke="#000" stroke-width="1.6"/>
<line x1="46.15" y1="356.76" x2="48.95" y2="356.76" stroke="#000" stroke-width="1.6"/>
<line x1="46.15" y1="330.01" x2="48.95" y2="330.01" stroke="#000" stroke-width="1.6"/>
<line x1="46.15" y1="303.27" x2="48.95" y2="303.27" stroke="#000" stroke-width="1.6"/>
<text transform="translate(41 480.4) scale(1.01 1)" font-family='"Liberation Serif", "Times New Roman", serif' font-size="11.6" font-weight="bold" text-anchor="end" >0</text>
<text transform="translate(41 453.66) scale(1.01 1)" font-family='"Liberation Serif", "Times New Roman", serif' font-size="11.6" font-weight="bold" text-anchor="end" >20</text>
<text transform="translate(41 426.91) scale(1.01 1)" font-family='"Liberation Serif", "Times New Roman", serif' font-size="11.6" font-weight="bold" text-anchor="end" >40</text>
<text transform="translate(41 400.17) scale(1.01 1)" font-family='"Liberation Serif", "Times New Roman", serif' font-size="11.6" font-weight="bold" text-anchor="end" >60</text>
<text transform="translate(41 373.43) scale(1.01 1)" font-family='"Liberation Serif", "Times New Roman", serif' font-size="11.6" font-weight="bold" text-anchor="end" >80</text>
<text transform="translate(41 346.69) scale(1.01 1)" font-family='"Liberation Serif", "Times New Roman", serif' font-size="11.6" font-weight="bold" text-anchor="end" >100</text>
<text transform="translate(41 319.94) scale(1.01 1)" font-family='"Liberation Serif", "Times New Roman", serif' font-size="11.6" font-weight="bold" text-anchor="end" >120</text>
<text transform="translate(41 293.2) scale(1.01 1)" font-family='"Liberation Serif", "Times New Roman", serif' font-size="11.6" font-weight="bold" text-anchor="end" >140</text>
<line x1="47.95" y1="477.1" x2="292.6" y2="477.1" stroke="#000" stroke-width="2.0"/>
<line x1="69.6" y1="477.1" x2="69.6" y2="481.1" stroke="#000" stroke-width="2.0"/>
<line x1="109.9" y1="477.1" x2="109.9" y2="481.1" stroke="#000" stroke-width="2.0"/>
<line x1="150.2" y1="477.1" x2="150.2" y2="481.1" stroke="#000" stroke-width="2.0"/>
<line x1="190.5" y1="477.1" x2="190.5" y2="481.1" stroke="#000" stroke-width="2.0"/>
<line x1="230.8" y1="477.1" x2="230.8" y2="481.1" stroke="#000" stroke-width="2.0"/>
<line x1="271.1" y1="477.1" x2="271.1" y2="481.1" stroke="#000" stroke-width="2.0"/>
<line x1="49.45" y1="477.1" x2="49.45" y2="480.3" stroke="#000" stroke-width="1.6"/>
<line x1="89.75" y1="477.1" x2="89.75" y2="480.3" stroke="#000" stroke-width="1.6"/>
<line x1="130.05" y1="477.1" x2="130.05" y2="480.3" stroke="#000" stroke-width="1.6"/>
<line x1="170.35" y1="477.1" x2="170.35" y2="480.3" stroke="#000" stroke-width="1.6"/>
<line x1="210.65" y1="477.1" x2="210.65" y2="480.3" stroke="#000" stroke-width="1.6"/>
<line x1="250.95" y1="477.1" x2="250.95" y2="480.3" stroke="#000" stroke-width="1.6"/>
<line x1="291.25" y1="477.1" x2="291.25" y2="480.3" stroke="#000" stroke-width="1.6"/>
<text transform="translate(69.6 494.3) scale(1.01 1)" font-family='"Liberation Serif", "Times New Roman", serif' font-size="11.6" font-weight="bold" text-anchor="middle" >0</text>
<text transform="translate(109.9 494.3) scale(1.01 1)" font-family='"Liberation Serif", "Times New Roman", serif' font-size="11.6" font-weight="bold" text-anchor="middle" >1000</text>
<text transform="translate(150.2 494.3) scale(1.01 1)" font-family='"Liberation Serif", "Times New Roman", serif' font-size="11.6" font-weight="bold" text-anchor="middle" >2000</text>
<text transform="translate(190.5 494.3) scale(1.01 1)" font-family='"Liberation Serif", "Times New Roman", serif' font-size="11.6" font-weight="bold" text-anchor="middle" >3000</text>
<text transform="translate(230.8 494.3) scale(1.01 1)" font-family='"Liberation Serif", "Times New Roman", serif' font-size="11.6" font-weight="bold" text-anchor="middle" >4000</text>
<text transform="translate(271.1 494.3) scale(1.01 1)" font-family='"Liberation Serif", "Times New Roman", serif' font-size="11.6" font-weight="bold" text-anchor="middle" >5000</text>
<text transform="translate(120.98 518.77) scale(1.002 1)" font-family='"Liberation Serif", "Times New Roman", serif' font-size="16.86" font-weight="bold" >ATP(&#956;M)</text>
<text transform="translate(11.28 409.76) rotate(-90) scale(1.259 1)" font-family='"Liberation Serif", "Times New Roman", serif' font-size="13.99" font-weight="bold" >F (a.u.)</text>
<path d="M69.6 307.02 L70 338.97 L73.63 346.19 L77.66 361.84 L89.75 380.42 L150.2 426.56 L190.5 447.01 L230.8 451.69 L271.1 455.71" fill="none" stroke="#ff0000" stroke-width="2.0" stroke-linejoin="round" stroke-linecap="butt" />
<rect x="67.5" y="304.92" width="4.2" height="4.2" rx="1.4" fill="#000"/>
<rect x="67.9" y="336.87" width="4.2" height="4.2" rx="1.4" fill="#000"/>
<rect x="71.53" y="344.09" width="4.2" height="4.2" rx="1.4" fill="#000"/>
<line x1="73.63" y1="343.51" x2="73.63" y2="348.87" stroke="#000" stroke-width="1.2"/>
<line x1="71.63" y1="343.51" x2="75.63" y2="343.51" stroke="#000" stroke-width="1.2"/>
<line x1="71.63" y1="348.87" x2="75.63" y2="348.87" stroke="#000" stroke-width="1.2"/>
<rect x="75.56" y="359.74" width="4.2" height="4.2" rx="1.4" fill="#000"/>
<line x1="77.66" y1="358.76" x2="77.66" y2="364.92" stroke="#000" stroke-width="1.2"/>
<line x1="75.66" y1="358.76" x2="79.66" y2="358.76" stroke="#000" stroke-width="1.2"/>
<line x1="75.66" y1="364.92" x2="79.66" y2="364.92" stroke="#000" stroke-width="1.2"/>
<rect x="87.65" y="378.32" width="4.2" height="4.2" rx="1.4" fill="#000"/>
<line x1="89.75" y1="376.4" x2="89.75" y2="384.44" stroke="#000" stroke-width="1.2"/>
<line x1="87.75" y1="376.4" x2="91.75" y2="376.4" stroke="#000" stroke-width="1.2"/>
<line x1="87.75" y1="384.44" x2="91.75" y2="384.44" stroke="#000" stroke-width="1.2"/>
<rect x="148.1" y="424.46" width="4.2" height="4.2" rx="1.4" fill="#000"/>
<line x1="150.2" y1="421.2" x2="150.2" y2="431.92" stroke="#000" stroke-width="1.2"/>
<line x1="148.2" y1="421.2" x2="152.2" y2="421.2" stroke="#000" stroke-width="1.2"/>
<line x1="148.2" y1="431.92" x2="152.2" y2="431.92" stroke="#000" stroke-width="1.2"/>
<rect x="188.4" y="444.91" width="4.2" height="4.2" rx="1.4" fill="#000"/>
<rect x="228.7" y="449.59" width="4.2" height="4.2" rx="1.4" fill="#000"/>
<rect x="269" y="453.61" width="4.2" height="4.2" rx="1.4" fill="#000"/>
<text transform="translate(313.93 285.15) scale(1.051 1)" font-family='"Liberation Sans", Arial, sans-serif' font-size="19.59" font-weight="bold" >d</text>
<line x1="365" y1="288.7" x2="365" y2="478" stroke="#000" stroke-width="2.0"/>
<line x1="360.8" y1="465.6" x2="365" y2="465.6" stroke="#000" stroke-width="2.0"/>
<line x1="360.8" y1="443.61" x2="365" y2="443.61" stroke="#000" stroke-width="2.0"/>
<line x1="360.8" y1="421.62" x2="365" y2="421.62" stroke="#000" stroke-width="2.0"/>
<line x1="360.8" y1="399.64" x2="365" y2="399.64" stroke="#000" stroke-width="2.0"/>
<line x1="360.8" y1="377.65" x2="365" y2="377.65" stroke="#000" stroke-width="2.0"/>
<line x1="360.8" y1="355.66" x2="365" y2="355.66" stroke="#000" stroke-width="2.0"/>
<line x1="360.8" y1="333.68" x2="365" y2="333.68" stroke="#000" stroke-width="2.0"/>
<line x1="360.8" y1="311.69" x2="365" y2="311.69" stroke="#000" stroke-width="2.0"/>
<line x1="360.8" y1="289.7" x2="365" y2="289.7" stroke="#000" stroke-width="2.0"/>
<line x1="362.2" y1="454.61" x2="365" y2="454.61" stroke="#000" stroke-width="1.6"/>
<line x1="362.2" y1="432.62" x2="365" y2="432.62" stroke="#000" stroke-width="1.6"/>
<line x1="362.2" y1="410.63" x2="365" y2="410.63" stroke="#000" stroke-width="1.6"/>
<line x1="362.2" y1="388.64" x2="365" y2="388.64" stroke="#000" stroke-width="1.6"/>
<line x1="362.2" y1="366.66" x2="365" y2="366.66" stroke="#000" stroke-width="1.6"/>
<line x1="362.2" y1="344.67" x2="365" y2="344.67" stroke="#000" stroke-width="1.6"/>
<line x1="362.2" y1="322.68" x2="365" y2="322.68" stroke="#000" stroke-width="1.6"/>
<line x1="362.2" y1="300.69" x2="365" y2="300.69" stroke="#000" stroke-width="1.6"/>
<text transform="translate(356.8 468.6) scale(1.01 1)" font-family='"Liberation Serif", "Times New Roman", serif' font-size="11.8" font-weight="bold" text-anchor="end" >1</text>
<text transform="translate(356.8 446.61) scale(1.01 1)" font-family='"Liberation Serif", "Times New Roman", serif' font-size="11.8" font-weight="bold" text-anchor="end" >2</text>
<text transform="translate(356.8 424.62) scale(1.01 1)" font-family='"Liberation Serif", "Times New Roman", serif' font-size="11.8" font-weight="bold" text-anchor="end" >3</text>
<text transform="translate(356.8 402.64) scale(1.01 1)" font-family='"Liberation Serif", "Times New Roman", serif' font-size="11.8" font-weight="bold" text-anchor="end" >4</text>
<text transform="translate(356.8 380.65) scale(1.01 1)" font-family='"Liberation Serif", "Times New Roman", serif' font-size="11.8" font-weight="bold" text-anchor="end" >5</text>
<text transform="translate(356.8 358.66) scale(1.01 1)" font-family='"Liberation Serif", "Times New Roman", serif' font-size="11.8" font-weight="bold" text-anchor="end" >6</text>
<text transform="translate(356.8 336.68) scale(1.01 1)" font-family='"Liberation Serif", "Times New Roman", serif' font-size="11.8" font-weight="bold" text-anchor="end" >7</text>
<text transform="translate(356.8 314.69) scale(1.01 1)" font-family='"Liberation Serif", "Times New Roman", serif' font-size="11.8" font-weight="bold" text-anchor="end" >8</text>
<text transform="translate(356.8 292.7) scale(1.01 1)" font-family='"Liberation Serif", "Times New Roman", serif' font-size="11.8" font-weight="bold" text-anchor="end" >9</text>
<line x1="364" y1="477" x2="608" y2="477" stroke="#000" stroke-width="2.0"/>
<line x1="385" y1="477" x2="385" y2="481" stroke="#000" stroke-width="2.0"/>
<line x1="425.36" y1="477" x2="425.36" y2="481" stroke="#000" stroke-width="2.0"/>
<line x1="465.72" y1="477" x2="465.72" y2="481" stroke="#000" stroke-width="2.0"/>
<line x1="506.08" y1="477" x2="506.08" y2="481" stroke="#000" stroke-width="2.0"/>
<line x1="546.44" y1="477" x2="546.44" y2="481" stroke="#000" stroke-width="2.0"/>
<line x1="586.8" y1="477" x2="586.8" y2="481" stroke="#000" stroke-width="2.0"/>
<line x1="364.82" y1="477" x2="364.82" y2="480.2" stroke="#000" stroke-width="1.6"/>
<line x1="405.18" y1="477" x2="405.18" y2="480.2" stroke="#000" stroke-width="1.6"/>
<line x1="445.54" y1="477" x2="445.54" y2="480.2" stroke="#000" stroke-width="1.6"/>
<line x1="485.9" y1="477" x2="485.9" y2="480.2" stroke="#000" stroke-width="1.6"/>
<line x1="526.26" y1="477" x2="526.26" y2="480.2" stroke="#000" stroke-width="1.6"/>
<line x1="566.62" y1="477" x2="566.62" y2="480.2" stroke="#000" stroke-width="1.6"/>
<line x1="606.98" y1="477" x2="606.98" y2="480.2" stroke="#000" stroke-width="1.6"/>
<text transform="translate(385 494) scale(1.01 1)" font-family='"Liberation Serif", "Times New Roman", serif' font-size="11.8" font-weight="bold" text-anchor="middle" >0</text>
<text transform="translate(425.36 494) scale(1.01 1)" font-family='"Liberation Serif", "Times New Roman", serif' font-size="11.8" font-weight="bold" text-anchor="middle" >1000</text>
<text transform="translate(465.72 494) scale(1.01 1)" font-family='"Liberation Serif", "Times New Roman", serif' font-size="11.8" font-weight="bold" text-anchor="middle" >2000</text>
<text transform="translate(506.08 494) scale(1.01 1)" font-family='"Liberation Serif", "Times New Roman", serif' font-size="11.8" font-weight="bold" text-anchor="middle" >3000</text>
<text transform="translate(546.44 494) scale(1.01 1)" font-family='"Liberation Serif", "Times New Roman", serif' font-size="11.8" font-weight="bold" text-anchor="middle" >4000</text>
<text transform="translate(586.8 494) scale(1.01 1)" font-family='"Liberation Serif", "Times New Roman", serif' font-size="11.8" font-weight="bold" text-anchor="middle" >5000</text>
<text transform="translate(458.58 521.57) scale(0.997 1)" font-family='"Liberation Serif", "Times New Roman", serif' font-size="16.86" font-weight="bold" >ATP(&#956;M)</text>
<text transform="translate(330.45 406.86) rotate(-90) scale(0.995 1)" font-family='"Liberation Serif", "Times New Roman", serif' font-size="17.71" font-weight="bold" >F</text>
<text transform="translate(336.65 396.53) rotate(-90) scale(1.299 1)" font-family='"Liberation Serif", "Times New Roman", serif' font-size="9.78" font-weight="bold" >0</text>
<text transform="translate(330.57 390.21) rotate(-90) scale(0.784 1)" font-family='"Liberation Serif", "Times New Roman", serif' font-size="18.43" font-weight="bold" >/</text>
<text transform="translate(330.45 385.86) rotate(-90) scale(0.984 1)" font-family='"Liberation Serif", "Times New Roman", serif' font-size="17.71" font-weight="bold" >F</text>
<text transform="translate(376.16 327.23) scale(0.923 1)" font-family='"Liberation Sans", Arial, sans-serif' font-size="11.87" font-weight="bold" >Y=0.0014X+1.11928</text>
<text transform="translate(375.60 341.73) scale(0.922 1)" font-family='"Liberation Sans", Arial, sans-serif' font-size="12.01" font-weight="bold" >R=0.9964</text>
<rect x="383" y="458.1" width="4" height="4" fill="#000"/>
<rect x="387.04" y="457" width="4" height="4" fill="#000"/>
<rect x="391.07" y="452.61" width="4" height="4" fill="#000"/>
<line x1="393.07" y1="453.07" x2="393.07" y2="456.15" stroke="#000" stroke-width="1.2"/>
<line x1="390.87" y1="453.07" x2="395.27" y2="453.07" stroke="#000" stroke-width="1.2"/>
<line x1="390.87" y1="456.15" x2="395.27" y2="456.15" stroke="#000" stroke-width="1.2"/>
<rect x="403.18" y="446.67" width="4" height="4" fill="#000"/>
<rect x="463.72" y="409.95" width="4" height="4" fill="#000"/>
<line x1="465.72" y1="404.91" x2="465.72" y2="418.99" stroke="#000" stroke-width="1.2"/>
<line x1="463.52" y1="404.91" x2="467.92" y2="404.91" stroke="#000" stroke-width="1.2"/>
<line x1="463.52" y1="418.99" x2="467.92" y2="418.99" stroke="#000" stroke-width="1.2"/>
<rect x="504.08" y="362.46" width="4" height="4" fill="#000"/>
<line x1="506.08" y1="361.6" x2="506.08" y2="367.32" stroke="#000" stroke-width="1.2"/>
<line x1="503.88" y1="361.6" x2="508.28" y2="361.6" stroke="#000" stroke-width="1.2"/>
<line x1="503.88" y1="367.32" x2="508.28" y2="367.32" stroke="#000" stroke-width="1.2"/>
<rect x="544.44" y="336.29" width="4" height="4" fill="#000"/>
<line x1="546.44" y1="334.55" x2="546.44" y2="342.03" stroke="#000" stroke-width="1.2"/>
<line x1="544.24" y1="334.55" x2="548.64" y2="334.55" stroke="#000" stroke-width="1.2"/>
<line x1="544.24" y1="342.03" x2="548.64" y2="342.03" stroke="#000" stroke-width="1.2"/>
<rect x="584.8" y="307.93" width="4" height="4" fill="#000"/>
<line x1="586.8" y1="307.29" x2="586.8" y2="312.57" stroke="#000" stroke-width="1.2"/>
<line x1="584.6" y1="307.29" x2="589" y2="307.29" stroke="#000" stroke-width="1.2"/>
<line x1="584.6" y1="312.57" x2="589" y2="312.57" stroke="#000" stroke-width="1.2"/>
<line x1="365" y1="477" x2="608" y2="293.29" stroke="#ff0000" stroke-width="2.2"/>
</svg>
</body></html>
